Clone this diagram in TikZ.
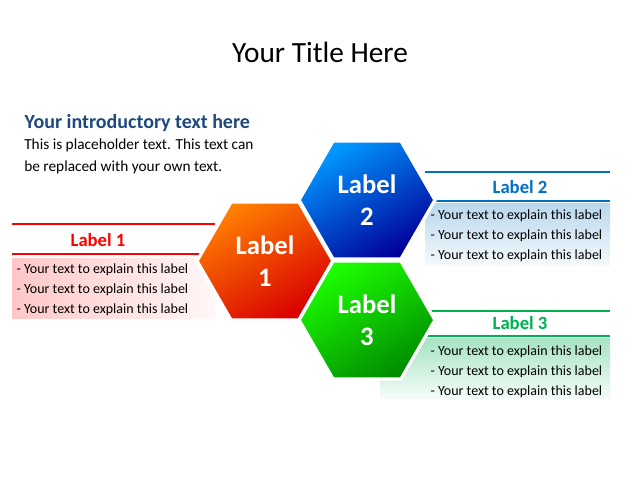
\documentclass[tikz,border=0pt]{standalone}
\usepackage{fontspec}
\setmainfont{Carlito}
\definecolor{tblue}{RGB}{31,73,125}
\definecolor{lred}{RGB}{255,0,0}
\definecolor{lblue}{RGB}{0,112,192}
\definecolor{lgreen}{RGB}{0,176,80}
\tikzset{
 hexa/.style={draw=white,line width=2.5pt,drop shadow={opacity=0.25,shadow xshift=1pt,shadow yshift=-1pt}},
 rule/.style={line width=1.5pt},
 hexlabel/.style={text=white,font=\bfseries\fontsize{20}{24}\selectfont,align=center},
 bul/.style={font=\fontsize{10.5}{15}\selectfont,align=left,anchor=west},
 lab/.style={font=\bfseries\fontsize{14}{16}\selectfont}
}
\usetikzlibrary{shadows}
\newcommand{\hexat}[3]{% cx cy name
 \coordinate (#3) at (#1,#2);}
\begin{document}
\begin{tikzpicture}[x=0.75pt,y=-0.75pt]
\useasboundingbox (0,0) rectangle (640,480);
\node (title) at (320,52) {\fontsize{22}{26}\selectfont Your Title Here};
\node[anchor=west,text=tblue,font=\bfseries\fontsize{15}{18}\selectfont] (intro) at (20,123) {Your introductory text here};
\node[anchor=north west,align=left,font=\fontsize{11.5}{16}\selectfont,inner sep=0pt] (body) at (24,139) {This is placeholder text. This text can\\be replaced with your own text.};
% panels
\shade[left color=red!22,right color=red!3] (12,258) rectangle (215,318);
\shade[top color=lblue!28,bottom color=lblue!4] (425,203) rectangle (610,265);
\shade[top color=lgreen!35,bottom color=lgreen!4] (380,338) rectangle (610,398);
\draw[rule,lred] (12,224) -- (215,224);
\draw[rule,lred] (12,254) -- (200,254);
\draw[rule,lblue] (425,172) -- (610,172);
\draw[rule,lblue] (425,201) -- (610,201);
\draw[rule,lgreen] (425,311) -- (610,311);
\draw[rule,lgreen] (425,336) -- (610,336);
\node[lab,text=lred] (l1) at (98,240) {Label 1};
\node[lab,text=lblue] (l2) at (520,187) {Label 2};
\node[lab,text=lgreen] (l3) at (520,323) {Label 3};
\node[bul] (t1) at (12,290) {- Your text to explain this label\\- Your text to explain this label\\- Your text to explain this label};
\node[bul] (t2) at (426,236) {- Your text to explain this label\\- Your text to explain this label\\- Your text to explain this label};
\node[bul] (t3) at (426,372) {- Your text to explain this label\\- Your text to explain this label\\- Your text to explain this label};
% hexagons
\def\R{68}
\foreach \cx/\cy/\ca/\cb/\nm in {265/261/orange/red!85!black/h1,367/200/cyan!60!blue/blue!60!black/h2,367/320/green!85!lime/green!55!black/h3}{
 \path[hexa,top color=\ca,bottom color=\cb,shading angle=30]
  (\cx-\R,\cy) -- (\cx-\R/2,\cy-59) -- (\cx+\R/2,\cy-59) -- (\cx+\R,\cy) -- (\cx+\R/2,\cy+59) -- (\cx-\R/2,\cy+59) -- cycle;
}
\node[hexlabel] (n1) at (265,261) {Label\\1};
\node[hexlabel] (n2) at (367,200) {Label\\2};
\node[hexlabel] (n3) at (367,320) {Label\\3};
\end{tikzpicture}
\end{document}
